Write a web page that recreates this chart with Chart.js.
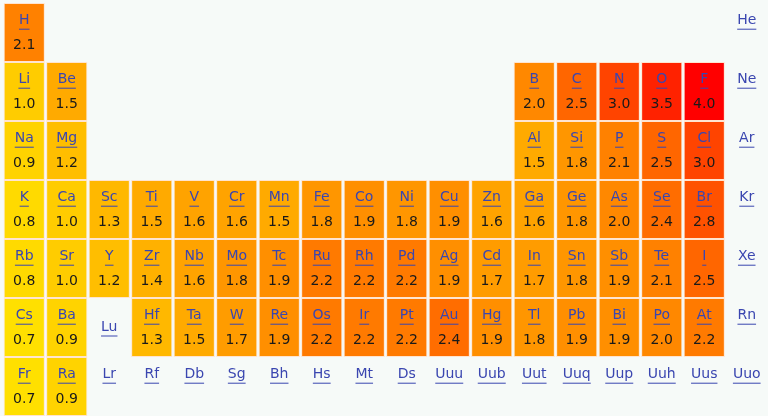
<!DOCTYPE html>
<html><head><meta charset="utf-8">
<script src="https://cdn.jsdelivr.net/npm/chart.js@4"></script>
<style>html,body{margin:0;padding:0;background:#f6faf8;}#w{width:768px;height:416px;}</style>
</head><body><div id="w"><canvas id="c"></canvas></div>
<script>
const symbols=["H","He","Li","Be","B","C","N","O","F","Ne","Na","Mg","Al","Si","P","S","Cl","Ar",
"K","Ca","Sc","Ti","V","Cr","Mn","Fe","Co","Ni","Cu","Zn","Ga","Ge","As","Se","Br","Kr",
"Rb","Sr","Y","Zr","Nb","Mo","Tc","Ru","Rh","Pd","Ag","Cd","In","Sn","Sb","Te","I","Xe",
"Cs","Ba","Lu","Hf","Ta","W","Re","Os","Ir","Pt","Au","Hg","Tl","Pb","Bi","Po","At","Rn",
"Fr","Ra","Lr","Rf","Db","Sg","Bh","Hs","Mt","Ds","Uuu","Uub","Uut","Uuq","Uup","Uuh","Uus","Uuo"];
const groups=[1,18,1,2,13,14,15,16,17,18,1,2,13,14,15,16,17,18,
1,2,3,4,5,6,7,8,9,10,11,12,13,14,15,16,17,18,
1,2,3,4,5,6,7,8,9,10,11,12,13,14,15,16,17,18,
1,2,3,4,5,6,7,8,9,10,11,12,13,14,15,16,17,18,
1,2,3,4,5,6,7,8,9,10,11,12,13,14,15,16,17,18];
const periods=[1,1,2,2,2,2,2,2,2,2,3,3,3,3,3,3,3,3,
4,4,4,4,4,4,4,4,4,4,4,4,4,4,4,4,4,4,
5,5,5,5,5,5,5,5,5,5,5,5,5,5,5,5,5,5,
6,6,6,6,6,6,6,6,6,6,6,6,6,6,6,6,6,6,
7,7,7,7,7,7,7,7,7,7,7,7,7,7,7,7,7,7];
const values=[2.1,null,1.0,1.5,2.0,2.5,3.0,3.5,4.0,null,0.9,1.2,1.5,1.8,2.1,2.5,3.0,null,
0.8,1.0,1.3,1.5,1.6,1.6,1.5,1.8,1.9,1.8,1.9,1.6,1.6,1.8,2.0,2.4,2.8,null,
0.8,1.0,1.2,1.4,1.6,1.8,1.9,2.2,2.2,2.2,1.9,1.7,1.7,1.8,1.9,2.1,2.5,null,
0.7,0.9,null,1.3,1.5,1.7,1.9,2.2,2.2,2.2,2.4,1.9,1.8,1.9,1.9,2.0,2.2,null,
0.7,0.9,null,null,null,null,null,null,null,null,null,null,null,null,null,null,null,null];
const columnLabels=Array.from({length:18},(_,i)=>String(i+1));

function colorFor(v){const g=Math.max(0,Math.min(255,Math.round(68*(4-v))));return `rgb(255,${g},0)`;}

// one dataset per period (row), floating bars [period-1, period]
const datasets=[1,2,3,4,5,6,7].map(p=>{
  const data=columnLabels.map(()=>null), meta=columnLabels.map(()=>null);
  symbols.forEach((s,i)=>{ if(periods[i]===p){ data[groups[i]-1]=[p-1,p]; meta[groups[i]-1]=i; } });
  return {label:'P'+p,data,meta,
    backgroundColor:ctx=>{const i=meta[ctx.dataIndex];return (i!=null&&values[i]!=null)?colorFor(values[i]):'rgba(0,0,0,0)';},
    borderColor:ctx=>{const i=meta[ctx.dataIndex];return (i!=null&&values[i]!=null)?'#ffe4d0':'rgba(0,0,0,0)';},
    borderWidth:1,borderSkipped:false,grouped:false,categoryPercentage:1,barPercentage:0.97};
});

const textPlugin={id:'txt',afterDatasetsDraw(chart){
  const c=chart.ctx;c.save();c.textAlign='center';c.textBaseline='middle';c.font='14px "DejaVu Sans"';
  chart.data.datasets.forEach((ds,di)=>{
    const m=chart.getDatasetMeta(di);
    m.data.forEach((el,k)=>{
      const i=ds.meta[k]; if(i==null) return;
      const top=Math.min(el.y,el.base),h=Math.abs(el.base-el.y),x=el.x;
      const v=values[i], s=symbols[i];
      let ys = top+h*0.3;
      if(s==='Lu') ys=top+h*0.5;
      c.fillStyle='#3a46b0';
      c.fillText(s,x,ys);
      const w=c.measureText(s).width;
      c.fillRect(x-w/2,ys+8,w,1);
      if(v!=null){c.fillStyle='#1a1a1a';c.fillText(v.toFixed(1),x,top+h*0.72);}
    });
  });
  c.restore();
}};

new Chart(document.getElementById('c'),{
  type:'bar',
  data:{labels:columnLabels,datasets},
  options:{responsive:true,maintainAspectRatio:false,animation:false,
    layout:{padding:{left:3,top:3,right:0,bottom:0}},
    plugins:{legend:{display:false},tooltip:{enabled:false}},
    scales:{x:{display:false,offset:true},y:{display:false,min:0,max:7,reverse:true}}},
  plugins:[textPlugin]
});
</script></body></html>
